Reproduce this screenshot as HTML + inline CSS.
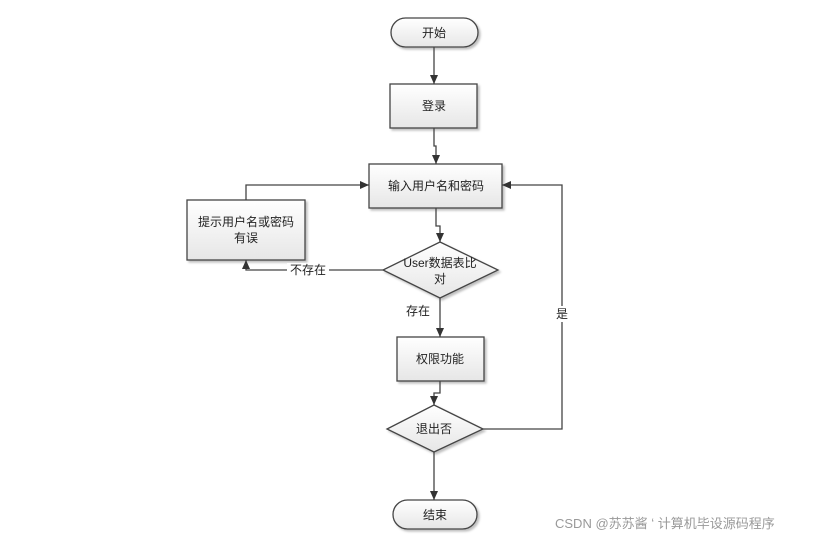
<!DOCTYPE html>
<html><head><meta charset="utf-8"><style>
body{margin:0;background:#fff;}
svg text{font-family:"Liberation Sans","Noto Sans CJK SC",sans-serif;font-size:12px;fill:#222;}
</style></head><body>
<svg width="837" height="539" viewBox="0 0 837 539" xmlns="http://www.w3.org/2000/svg">
<defs>
<linearGradient id="g" x1="0" y1="0" x2="0" y2="1"><stop offset="0" stop-color="#ffffff"/><stop offset="1" stop-color="#e6e6e6"/></linearGradient>
<marker id="a" markerWidth="10" markerHeight="10" refX="9" refY="5" orient="auto" markerUnits="userSpaceOnUse"><path d="M0,1 L9,5 L0,9 z" fill="#333"/></marker>
<filter id="s"><feDropShadow dx="2" dy="2" stdDeviation="1" flood-color="#000" flood-opacity="0.25"/></filter>
</defs>
<g stroke="#444" stroke-width="1.3" fill="url(#g)" filter="url(#s)">
<rect x="391" y="18" width="87" height="29" rx="14.5"/>
<rect x="390" y="84" width="87" height="44"/>
<rect x="369" y="164" width="133" height="44"/>
<rect x="187" y="200" width="118" height="60"/>
<polygon points="440,242 498,270 440,298 383,270"/>
<rect x="397" y="337" width="87" height="44"/>
<polygon points="434,405 483,429 434,452 387,429"/>
<rect x="393" y="500" width="84" height="29" rx="14.5"/>
</g>
<g stroke="#444" stroke-width="1.3" fill="none" marker-end="url(#a)">
<path d="M434,47 V84"/>
<path d="M434,128 V146 H436 V164"/>
<path d="M436,208 V226 H440 V242"/>
<path d="M246,200 V185 H369"/>
<path d="M383,270 H246 V260"/>
<path d="M440,298 V337"/>
<path d="M440,381 V393 H434 V405"/>
<path d="M483,429 H562 V185 H502"/>
<path d="M434,452 V500"/>
</g>
<rect x="287" y="263" width="42" height="14" fill="#fff"/>
<rect x="554" y="306" width="16" height="16" fill="#fff"/>
<g text-anchor="middle">
<text x="434" y="37">开始</text>
<text x="434" y="110">登录</text>
<text x="436" y="190">输入用户名和密码</text>
<text x="246" y="226">提示用户名或密码</text>
<text x="246" y="242">有误</text>
<text x="440" y="267">User数据表比</text>
<text x="440" y="283">对</text>
<text x="308" y="274">不存在</text>
<text x="418" y="315">存在</text>
<text x="440" y="363">权限功能</text>
<text x="434" y="433">退出否</text>
<text x="562" y="318">是</text>
<text x="435" y="519">结束</text>
</g>
<text x="555" y="528" style="font-size:13px;fill:#999">CSDN @苏苏酱 ʻ 计算机毕设源码程序</text>
</svg>
</body></html>
